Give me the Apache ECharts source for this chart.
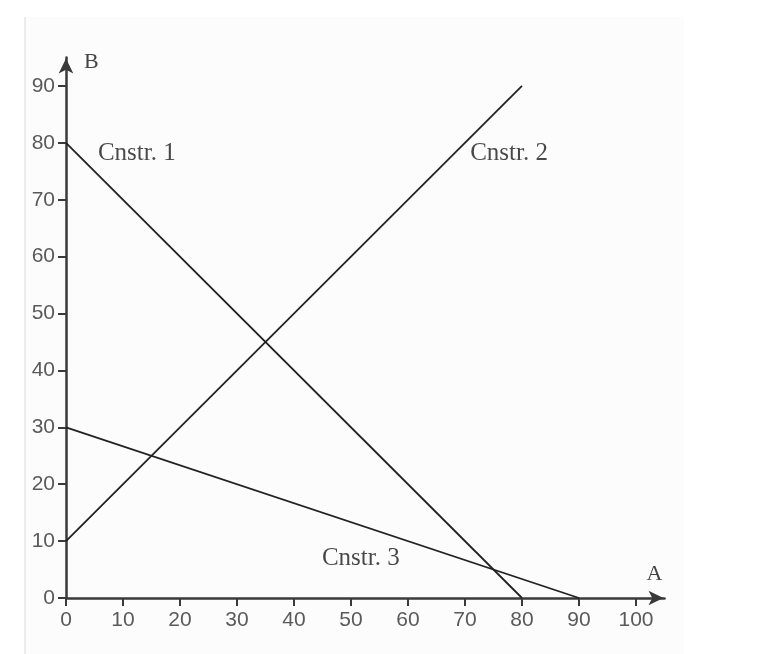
<!DOCTYPE html>
<html><head><meta charset="utf-8">
<script src="https://cdn.jsdelivr.net/npm/echarts@6/dist/echarts.min.js"></script>
<style>html,body{margin:0;padding:0;background:#fff}#c{width:774px;height:654px}</style>
</head><body><div id="c"></div>
<script>
const xTicks = [0, 10, 20, 30, 40, 50, 60, 70, 80, 90, 100];
const yTicks = [0, 10, 20, 30, 40, 50, 60, 70, 80, 90];
const cnstr1 = [[0, 80], [80, 0]];
const cnstr2 = [[0, 10], [80, 90]];
const cnstr3 = [[0, 30], [90, 0]];
const labelNames = ['Cnstr. 1', 'Cnstr. 2', 'Cnstr. 3'];
const labelAnchors = [[5.6, 78.2], [70.9, 78.2], [44.9, 6.9]];

const chart = echarts.init(document.getElementById('c'), null, {renderer: 'canvas'});
const axisColor = '#3a3a3a';
const lineStyle = {color: '#222222', width: 1.8};
chart.setOption({
  animation: false,
  backgroundColor: '#ffffff',
  graphic: [
    {type: 'rect', z: -10, silent: true, shape: {x: 24, y: 17, width: 660, height: 650},
     style: {fill: '#fcfcfc'}},
    {type: 'line', z: -9, silent: true, shape: {x1: 25, y1: 17, x2: 25, y2: 654},
     style: {stroke: '#ececec', lineWidth: 2}}
  ],
  grid: {left: 66, right: 109.5, top: 57.5, bottom: 56, containLabel: false, outerBoundsMode: 'none'},
  xAxis: {
    type: 'value', min: 0, max: 105,
    name: 'A', nameLocation: 'end', nameGap: -18,
    nameTextStyle: {fontFamily: 'Liberation Serif', fontSize: 22, color: '#444', verticalAlign: 'bottom', padding: [0, 0, 13, 0]},
    axisLine: {show: true, onZero: false, symbol: ['none', 'arrow'], symbolSize: [11, 15], symbolOffset: [0, -1],
               lineStyle: {color: axisColor, width: 2.5}},
    axisTick: {show: true, length: 8, customValues: xTicks, lineStyle: {color: axisColor, width: 2}},
    axisLabel: {show: true, margin: 12, customValues: xTicks, fontFamily: 'Liberation Sans', fontSize: 21, color: '#5a5a5a'},
    splitLine: {show: false}
  },
  yAxis: {
    type: 'value', min: 0, max: 95,
    name: 'B', nameLocation: 'end', nameGap: -16,
    nameTextStyle: {fontFamily: 'Liberation Serif', fontSize: 22, color: '#444', align: 'left', padding: [0, 0, 0, 18]},
    axisLine: {show: true, onZero: false, symbol: ['none', 'arrow'], symbolSize: [11, 15], symbolOffset: [0, -1],
               lineStyle: {color: axisColor, width: 2.5}},
    axisTick: {show: true, length: 8, customValues: yTicks, lineStyle: {color: axisColor, width: 2}},
    axisLabel: {show: true, margin: 11, customValues: yTicks, fontFamily: 'Liberation Sans', fontSize: 21, color: '#5a5a5a'},
    splitLine: {show: false}
  },
  series: [
    {type: 'line', data: cnstr1, symbol: 'none', lineStyle: lineStyle, z: 3},
    {type: 'line', data: cnstr2, symbol: 'none', lineStyle: lineStyle, z: 3},
    {type: 'line', data: cnstr3, symbol: 'none', lineStyle: lineStyle, z: 3},
    {type: 'scatter', symbolSize: 0, z: 4,
     data: labelAnchors.map((p, i) => ({value: p, name: labelNames[i]})),
     label: {show: true, position: 'right', distance: 0, formatter: p => p.name,
             fontFamily: 'Liberation Serif', fontSize: 25, color: '#1a1a1a'}}
  ]
});
</script></body></html>
